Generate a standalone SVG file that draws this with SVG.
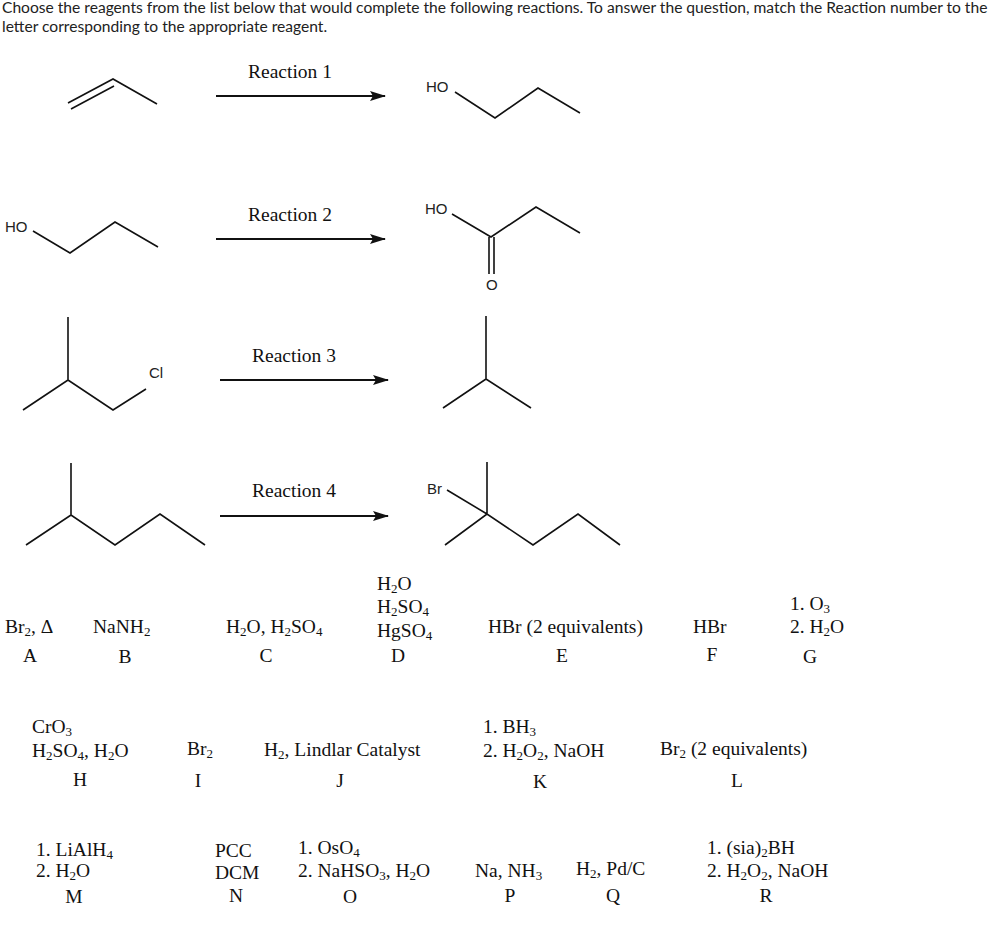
<svg xmlns="http://www.w3.org/2000/svg" width="1002" height="932" viewBox="0 0 1002 932">
<style>
.h{font-family:Lato,"Liberation Sans",sans-serif;font-size:15.6px;fill:#222}
.a{font-family:"Liberation Sans",Arial,sans-serif;font-size:15px;fill:#222}
.t{font-family:"Liberation Serif","Times New Roman",serif;font-size:19.5px;fill:#111}
.s{font-size:13px;baseline-shift:-3px}
.b{fill:none;stroke:#111;stroke-width:1.6}
.ar{stroke:#111;stroke-width:2;fill:none}
.c{text-anchor:middle}
</style>
<defs><marker id="m" viewBox="0 0 16 10" refX="15" refY="5" markerWidth="16" markerHeight="10" markerUnits="userSpaceOnUse" orient="auto"><path d="M0,0L16,5L0,10L3,5Z" fill="#111"/></marker></defs>
<rect width="1002" height="932" fill="#fff"/>
<text class="h" x="2" y="13">Choose the reagents from the list below that would complete the following reactions. To answer the question, match the Reaction number to the</text>
<text class="h" x="2" y="32">letter corresponding to the appropriate reagent.</text>
<g id="connectors">
<path class="ar" d="M216,96H385" marker-end="url(#m)"/>
<path class="ar" d="M216,239H385" marker-end="url(#m)"/>
<path class="ar" d="M220,380H388" marker-end="url(#m)"/>
<path class="ar" d="M220,516H388" marker-end="url(#m)"/>
<text class="t c" x="290" y="78">Reaction 1</text>
<text class="t c" x="290" y="221">Reaction 2</text>
<text class="t c" x="294" y="362">Reaction 3</text>
<text class="t c" x="294" y="497">Reaction 4</text>
</g>
<g id="r1-reactant"><path class="b" d="M68,103L113,79L157,104M71,109L114,86"/></g>
<g id="r1-product"><text class="a" x="426" y="92">HO</text><path class="b" d="M455,92L495,118L538,88L580,113"/></g>
<g id="r2-reactant"><text class="a" x="5" y="232">HO</text><path class="b" d="M33,231L70,253L115,222L158,247"/></g>
<g id="r2-product"><text class="a" x="425" y="214">HO</text><path class="b" d="M452,214L491,237L536,207L580,233M489,237V274M494,237V274"/><text class="a" x="486" y="290">O</text></g>
<g id="r3-reactant"><path class="b" d="M68,317V380M23,410L68,380L113,410L146,389"/><text class="a" x="149" y="378">Cl</text></g>
<g id="r3-product"><path class="b" d="M486,316V379M443,408L486,379L531,408"/></g>
<g id="r4-reactant"><path class="b" d="M71,463V515M26,545L71,515L115,545L160,514L205,545"/></g>
<g id="r4-product"><text class="a" x="427" y="494">Br</text><path class="b" d="M447,490L487,514M487,462V514M445,545L487,514L533,545L578,514L620,545"/></g>
<g id="reagents" class="t">
<text x="5" y="633">Br<tspan class="s">2</tspan>, Δ</text><text class="c" x="30" y="662">A</text>
<text x="93" y="633">NaNH<tspan class="s">2</tspan></text><text class="c" x="125" y="663">B</text>
<text x="226" y="633">H<tspan class="s">2</tspan>O, H<tspan class="s">2</tspan>SO<tspan class="s">4</tspan></text><text class="c" x="266" y="662">C</text>
<text x="377" y="590">H<tspan class="s">2</tspan>O</text><text x="377" y="613">H<tspan class="s">2</tspan>SO<tspan class="s">4</tspan></text><text x="377" y="637">HgSO<tspan class="s">4</tspan></text><text class="c" x="398" y="662">D</text>
<text x="488" y="633">HBr (2 equivalents)</text><text class="c" x="562" y="662">E</text>
<text x="693" y="633">HBr</text><text class="c" x="712" y="661">F</text>
<text x="790" y="610">1. O<tspan class="s">3</tspan></text><text x="790" y="633">2. H<tspan class="s">2</tspan>O</text><text class="c" x="810" y="663">G</text>
<text x="32" y="733">CrO<tspan class="s">3</tspan></text><text x="32" y="757">H<tspan class="s">2</tspan>SO<tspan class="s">4</tspan>, H<tspan class="s">2</tspan>O</text><text class="c" x="80" y="786">H</text>
<text x="187" y="755">Br<tspan class="s">2</tspan></text><text class="c" x="198" y="787">I</text>
<text x="264" y="756">H<tspan class="s">2</tspan>, Lindlar Catalyst</text><text class="c" x="340" y="787">J</text>
<text x="483" y="733">1. BH<tspan class="s">3</tspan></text><text x="483" y="757">2. H<tspan class="s">2</tspan>O<tspan class="s">2</tspan>, NaOH</text><text class="c" x="540" y="788">K</text>
<text x="660" y="755">Br<tspan class="s">2</tspan> (2 equivalents)</text><text class="c" x="737" y="787">L</text>
<text x="36" y="856">1. LiAlH<tspan class="s">4</tspan></text><text x="36" y="877">2. H<tspan class="s">2</tspan>O</text><text class="c" x="74" y="903">M</text>
<text x="215" y="857">PCC</text><text x="215" y="879">DCM</text><text class="c" x="236" y="902">N</text>
<text x="298" y="854">1. OsO<tspan class="s">4</tspan></text><text x="298" y="877">2. NaHSO<tspan class="s">3</tspan>, H<tspan class="s">2</tspan>O</text><text class="c" x="350" y="903">O</text>
<text x="475" y="877">Na, NH<tspan class="s">3</tspan></text><text class="c" x="510" y="902">P</text>
<text x="576" y="875">H<tspan class="s">2</tspan>, Pd/C</text><text class="c" x="613" y="902">Q</text>
<text x="707" y="854">1. (sia)<tspan class="s">2</tspan>BH</text><text x="707" y="877">2. H<tspan class="s">2</tspan>O<tspan class="s">2</tspan>, NaOH</text><text class="c" x="766" y="902">R</text>
</g>
</svg>
